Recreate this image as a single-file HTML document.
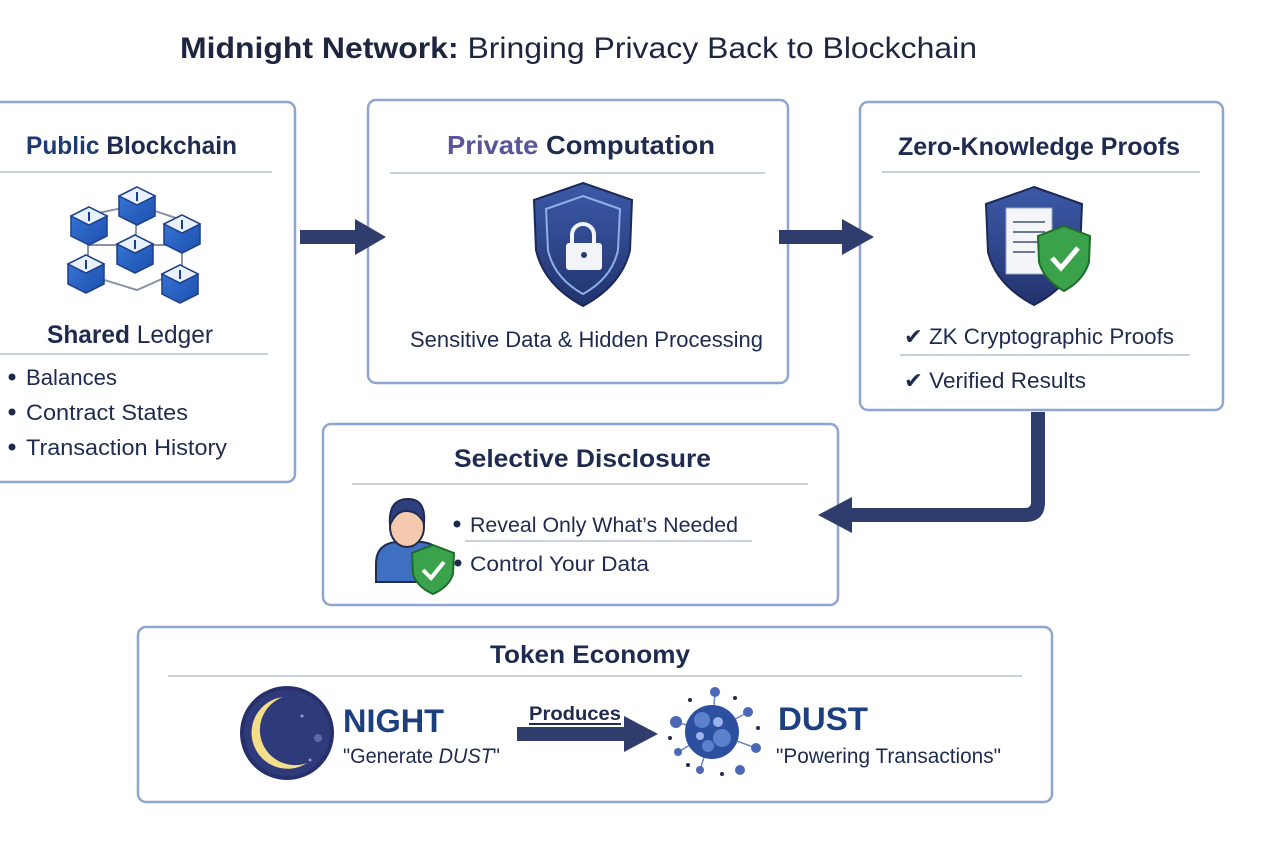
<!DOCTYPE html>
<html><head><meta charset="utf-8"><style>
html,body{margin:0;padding:0;background:#fff;}
svg{display:block;font-family:"Liberation Sans",sans-serif;}
</style></head><body>
<svg width="1280" height="853" viewBox="0 0 1280 853" xmlns="http://www.w3.org/2000/svg">
<defs>
<linearGradient id="sh" x1="0" y1="0" x2="0" y2="1"><stop offset="0" stop-color="#3c5aa8"/><stop offset="1" stop-color="#22336e"/></linearGradient>
<linearGradient id="cube" x1="0" y1="0" x2="1" y2="1"><stop offset="0" stop-color="#3a78d8"/><stop offset="1" stop-color="#1c4fae"/></linearGradient>
<g id="cb"><polygon points="0,-18 18,-9 18,11 0,20 -18,11 -18,-9" fill="url(#cube)" stroke="#1a3f8a" stroke-width="1.5"/><polygon points="0,-18 18,-9 0,0 -18,-9" fill="#e9f1ff" stroke="#1a3f8a" stroke-width="1.5"/><line x1="0" y1="-13" x2="0" y2="-4" stroke="#1a3f8a" stroke-width="2"/></g>
</defs>
<rect width="1280" height="853" fill="#fff"/>
<text x="180" y="58" font-size="30" fill="#1e2540" textLength="797" lengthAdjust="spacingAndGlyphs"><tspan font-weight="bold">Midnight Network:</tspan> Bringing Privacy Back to Blockchain</text>

<g fill="#fff" stroke="#8ea6cf" stroke-width="2.5">
<rect x="-10" y="102" width="305" height="380" rx="8"/>
<rect x="368" y="100" width="420" height="283" rx="8"/>
<rect x="860" y="102" width="363" height="308" rx="8"/>
<rect x="323" y="424" width="515" height="181" rx="8"/>
<rect x="138" y="627" width="914" height="175" rx="8"/>
</g>
<g stroke="#b9c4d6" stroke-width="1.5">
<line x1="0" y1="172" x2="272" y2="172"/>
<line x1="0" y1="354" x2="268" y2="354"/>
<line x1="390" y1="173" x2="765" y2="173"/>
<line x1="882" y1="172" x2="1200" y2="172"/>
<line x1="900" y1="355" x2="1190" y2="355"/>
<line x1="352" y1="484" x2="808" y2="484"/>
<line x1="465" y1="541" x2="752" y2="541"/>
<line x1="168" y1="676" x2="1022" y2="676"/>
</g>

<text x="26" y="154" font-size="25" font-weight="bold" fill="#1c3a73" textLength="211" lengthAdjust="spacingAndGlyphs">Public <tspan fill="#1f2a4f">Blockchain</tspan></text>
<g stroke="#8a93a3" stroke-width="2" fill="none">
<polyline points="88,215 137,205 182,220 182,270 137,290 88,275 88,215"/>
<line x1="137" y1="205" x2="135" y2="255"/><line x1="88" y1="245" x2="182" y2="245"/>
</g>
<use href="#cb" x="137" y="205"/>
<use href="#cb" x="89" y="225"/>
<use href="#cb" x="182" y="233"/>
<use href="#cb" x="135" y="253"/>
<use href="#cb" x="86" y="273"/>
<use href="#cb" x="180" y="283"/>
<text x="47" y="343" font-size="25" fill="#1f2a4f" textLength="166" lengthAdjust="spacingAndGlyphs"><tspan font-weight="bold">Shared</tspan> Ledger</text>
<g font-size="22" fill="#1f2a4f">
<circle cx="12" cy="377" r="3.5"/><text x="26" y="385" textLength="91" lengthAdjust="spacingAndGlyphs">Balances</text>
<circle cx="12" cy="412" r="3.5"/><text x="26" y="420" textLength="162" lengthAdjust="spacingAndGlyphs">Contract States</text>
<circle cx="12" cy="447" r="3.5"/><text x="26" y="455" textLength="201" lengthAdjust="spacingAndGlyphs">Transaction History</text>
</g>

<g fill="#2e3d6b">
<rect x="300" y="230" width="58" height="14"/><polygon points="355,219 386,237 355,255"/>
<rect x="779" y="230" width="66" height="14"/><polygon points="842,219 874,237 842,255"/>
<path d="M1031,412 h14 v90 q0,20 -20,20 h-175 v-14 h175 q6,0 6,-6 z"/>
<polygon points="852,497 818,515 852,533"/>
<rect x="517" y="727" width="110" height="14"/><polygon points="624,716 658,734 624,752"/>
</g>

<text x="447" y="154" font-size="26" font-weight="bold" fill="#5a559a" textLength="268" lengthAdjust="spacingAndGlyphs">Private <tspan fill="#1f2a4f">Computation</tspan></text>
<path d="M583,183 L632,200 L630,250 Q622,285 583,306 Q544,285 536,250 L534,200 Z" fill="url(#sh)" stroke="#1b2858" stroke-width="2"/>
<path d="M583,196 L620,209 L618,250 Q612,278 583,294 Q554,278 548,250 L546,209 Z" fill="none" stroke="#8eb0e8" stroke-width="2"/>
<rect x="566" y="243" width="36" height="27" rx="3" fill="#f2f4f8"/>
<path d="M572,243 v-8 a11,11 0 0 1 22,0 v8" fill="none" stroke="#f2f4f8" stroke-width="4"/>
<circle cx="584" cy="255" r="3" fill="#2a3a74"/>
<text x="410" y="347" font-size="22" fill="#1f2a4f" textLength="353" lengthAdjust="spacingAndGlyphs">Sensitive Data &amp; Hidden Processing</text>

<text x="898" y="155" font-size="25" font-weight="bold" fill="#1f2a4f" textLength="282" lengthAdjust="spacingAndGlyphs">Zero-Knowledge Proofs</text>
<path d="M1034,187 L1082,204 L1080,252 Q1072,285 1034,305 Q996,285 988,252 L986,204 Z" fill="url(#sh)" stroke="#1b2858" stroke-width="2"/>
<rect x="1006" y="208" width="46" height="66" fill="#f3f5f9" stroke="#9aa6bc"/>
<g stroke="#6b7a96" stroke-width="2"><line x1="1013" y1="222" x2="1045" y2="222"/><line x1="1013" y1="232" x2="1045" y2="232"/><line x1="1013" y1="242" x2="1045" y2="242"/><line x1="1013" y1="252" x2="1035" y2="252"/></g>
<path d="M1064,226 L1090,236 L1089,262 Q1084,280 1064,291 Q1044,280 1039,262 L1038,236 Z" fill="#3aa24a" stroke="#1f6b2b" stroke-width="2"/>
<polyline points="1052,258 1061,268 1078,248" fill="none" stroke="#fff" stroke-width="5"/>
<text x="904" y="344" font-size="22" fill="#1f2a4f" textLength="270" lengthAdjust="spacingAndGlyphs">✔ ZK Cryptographic Proofs</text>
<text x="904" y="388" font-size="22" fill="#1f2a4f" textLength="182" lengthAdjust="spacingAndGlyphs">✔ Verified Results</text>

<text x="454" y="467" font-size="25" font-weight="bold" fill="#1f2a4f" textLength="257" lengthAdjust="spacingAndGlyphs">Selective Disclosure</text>
<path d="M376,582 v-18 q0,-20 20,-22 h26 q20,2 20,22 v18 z" fill="#3f6fc0" stroke="#1f2a4f" stroke-width="2"/>
<ellipse cx="407" cy="527" rx="17" ry="20" fill="#f5c9ad" stroke="#1f2a4f" stroke-width="2"/>
<path d="M390,525 q-2,-26 18,-26 q18,0 16,24 q-6,-12 -18,-12 q-10,0 -16,14 z" fill="#2e3f80" stroke="#1f2a4f" stroke-width="2"/>
<path d="M433,545 L454,553 L453,574 Q449,587 433,594 Q417,587 413,574 L412,553 Z" fill="#3aa24a" stroke="#1f6b2b" stroke-width="2"/>
<polyline points="423,570 431,578 444,562" fill="none" stroke="#fff" stroke-width="4"/>
<circle cx="457" cy="524" r="3.5" fill="#1f2a4f"/>
<text x="470" y="532" font-size="21" fill="#1f2a4f" textLength="268" lengthAdjust="spacingAndGlyphs">Reveal Only What’s Needed</text>
<circle cx="458" cy="563" r="3.5" fill="#1f2a4f"/>
<text x="470" y="571" font-size="21" fill="#1f2a4f" textLength="179" lengthAdjust="spacingAndGlyphs">Control Your Data</text>

<text x="490" y="663" font-size="25" font-weight="bold" fill="#1f2a4f" textLength="200" lengthAdjust="spacingAndGlyphs">Token Economy</text>
<circle cx="287" cy="733" r="47" fill="#27306a"/>
<circle cx="287" cy="733" r="43" fill="#2e3a7a"/>
<path d="M283,697 a36,36 0 1 0 24,66 a30,30 0 1 1 -24,-66 z" fill="#f4de8a"/>
<circle cx="302" cy="716" r="1.5" fill="#8fa0d0"/><circle cx="318" cy="738" r="4" fill="#5b6aa8"/><circle cx="310" cy="760" r="1.5" fill="#8fa0d0"/>
<text x="343" y="732" font-size="32" font-weight="bold" fill="#1c3f80" textLength="101" lengthAdjust="spacingAndGlyphs">NIGHT</text>
<text x="343" y="763" font-size="21" fill="#1f2a4f" textLength="157" lengthAdjust="spacingAndGlyphs">"Generate <tspan font-style="italic">DUST</tspan>"</text>
<text x="529" y="720" font-size="19" font-weight="bold" fill="#1f2a4f" textLength="92" lengthAdjust="spacingAndGlyphs">Produces</text>
<line x1="529" y1="724" x2="621" y2="724" stroke="#1f2a4f" stroke-width="2"/>
<g stroke="#6a86c4" stroke-width="1.5">
<line x1="712" y1="732" x2="676" y2="722"/><line x1="712" y1="732" x2="748" y2="712"/><line x1="712" y1="732" x2="715" y2="692"/><line x1="712" y1="732" x2="700" y2="770"/><line x1="712" y1="732" x2="756" y2="748"/><line x1="712" y1="732" x2="678" y2="752"/>
</g>
<circle cx="712" cy="732" r="27" fill="#2d4fa0"/>
<g fill="#5c80cc"><circle cx="702" cy="720" r="8"/><circle cx="722" cy="738" r="9"/><circle cx="708" cy="746" r="6"/></g>
<g fill="#9ab4ea"><circle cx="718" cy="722" r="5"/><circle cx="700" cy="736" r="4"/></g>
<g fill="#4a68b6"><circle cx="676" cy="722" r="6"/><circle cx="748" cy="712" r="5"/><circle cx="715" cy="692" r="5"/><circle cx="700" cy="770" r="4"/><circle cx="756" cy="748" r="5"/><circle cx="678" cy="752" r="4"/><circle cx="740" cy="770" r="5"/></g>
<g fill="#1f2a4f"><circle cx="690" cy="700" r="2"/><circle cx="735" cy="698" r="2"/><circle cx="758" cy="728" r="2"/><circle cx="670" cy="738" r="2"/><circle cx="722" cy="774" r="2"/><circle cx="688" cy="765" r="2"/></g>
<text x="778" y="730" font-size="32" font-weight="bold" fill="#1c3f80" textLength="90" lengthAdjust="spacingAndGlyphs">DUST</text>
<text x="776" y="763" font-size="21" fill="#1f2a4f" textLength="225" lengthAdjust="spacingAndGlyphs">"Powering Transactions"</text>
</svg>
</body></html>
